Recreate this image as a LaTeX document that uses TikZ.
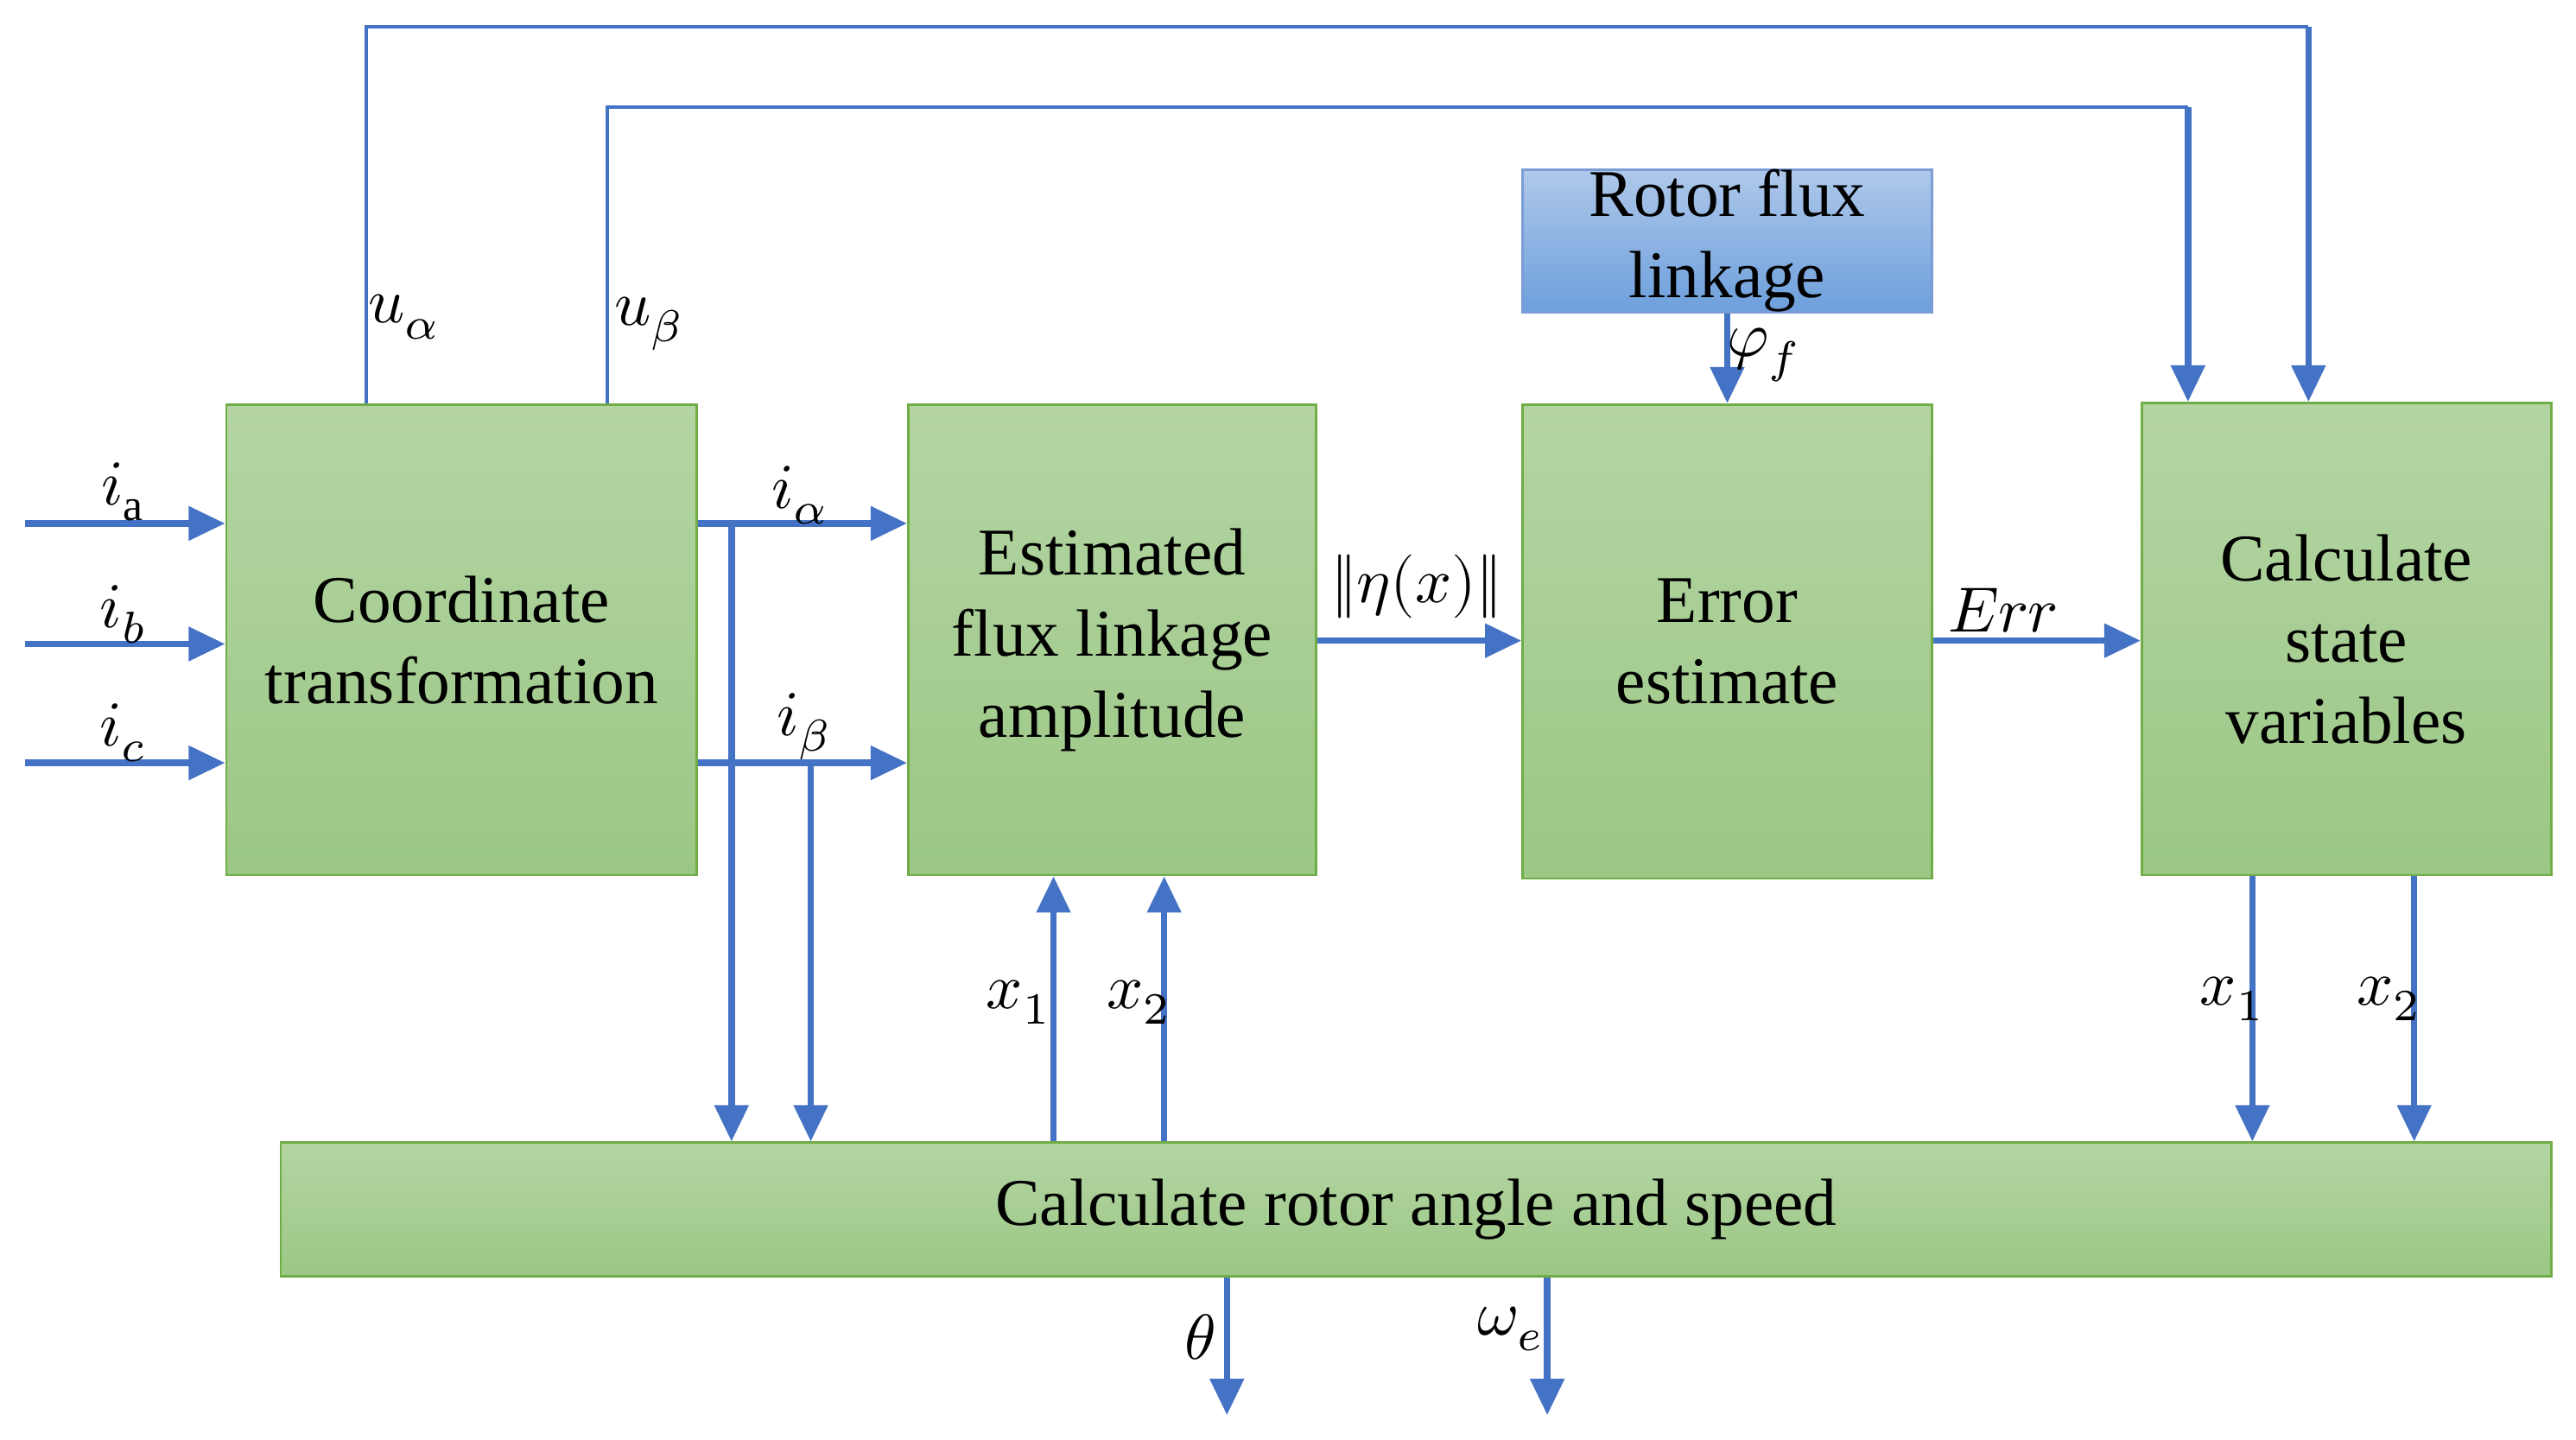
\documentclass[tikz,border=0pt]{standalone}
\usepackage{fontspec}
\setmainfont{Liberation Serif}
\usepackage{unicode-math}
\setmathfont{Latin Modern Math}
\usetikzlibrary{arrows.meta}
\definecolor{gborder}{HTML}{70AD47}
\definecolor{gtop}{HTML}{B4D5A3}
\definecolor{gbot}{HTML}{9BC785}
\definecolor{arrblue}{HTML}{4472C4}
\definecolor{btop}{HTML}{AEC8EA}
\definecolor{bbot}{HTML}{6D9FDC}
\tikzset{
  box/.style={draw=gborder, top color=gtop, bottom color=gbot, align=center,
    font=\fontsize{11.5}{14}\selectfont, inner sep=0pt},
  fluxbox/.style={draw=arrblue!70, top color=btop, bottom color=bbot, align=center,
    font=\fontsize{11.5}{14}\selectfont, inner sep=0pt},
  arr/.style={draw=arrblue, line width=1.1pt, -{Triangle[length=2.2mm,width=2mm]}},
  wire/.style={draw=arrblue, line width=0.6pt},
  lbl/.style={font=\fontsize{11}{13}\selectfont}
}
\begin{document}
\begin{tikzpicture}[x=0.1mm,y=-0.1mm]
\useasboundingbox (0,0) rectangle (1560,872);
% blocks
\node[box, minimum width=28.5mm, minimum height=28.5mm] (ct) at (279.5,387.5) {Coordinate\\transformation};
\node[box, minimum width=24.7mm, minimum height=28.5mm] (efl) at (673.5,387.5) {Estimated\\flux linkage\\amplitude};
\node[box, minimum width=24.8mm, minimum height=28.7mm] (err) at (1046,388.5) {Error\\estimate};
\node[box, minimum width=24.8mm, minimum height=28.6mm] (csv) at (1421,387) {Calculate\\state\\variables};
\node[fluxbox, minimum width=24.8mm, minimum height=8.6mm] (rfl) at (1046,146) {Rotor flux\\linkage};
\node[box, minimum width=137.5mm, minimum height=8.1mm] (crs) at (857.5,732.5) {Calculate rotor angle and speed};
% free ends
\coordinate (ina) at (15,317);
\coordinate (inb) at (15,390);
\coordinate (inc) at (15,462);
\coordinate (ial) at (443,317);
\coordinate (ibe) at (491,462);
\coordinate (ua) at (222,16);
\coordinate (ub) at (368,65);
\coordinate (uaend) at (1398,16);
\coordinate (ubend) at (1325,65);
\coordinate (th) at (743,857);
\coordinate (om) at (937,857);
% inputs
\draw[arr] (ina) -- (ina -| ct.west);
\draw[arr] (inb) -- (inb -| ct.west);
\draw[arr] (inc) -- (inc -| ct.west);
% alpha/beta currents
\draw[arr] (ct.east |- ial) -- (ial -| efl.west);
\draw[arr] (ct.east |- ibe) -- (ibe -| efl.west);
\draw[arr] (ial) -- (ial |- crs.north);
\draw[arr] (ibe) -- (ibe |- crs.north);
% feedback x1 x2
\draw[arr] (crs.north -| 638,0) -- (efl.south -| 638,0);
\draw[arr] (crs.north -| 705,0) -- (efl.south -| 705,0);
\draw[arr] (csv.south -| 1364,0) -- (crs.north -| 1364,0);
\draw[arr] (csv.south -| 1462,0) -- (crs.north -| 1462,0);
% main chain
\draw[arr] (efl.east |- 0,388) -- (err.west |- 0,388);
\draw[arr] (err.east |- 0,388) -- (csv.west |- 0,388);
\draw[arr] (rfl) -- (err);
% voltages
\draw[wire] (ct.north -| ua) -- (ua) -- (uaend);
\draw[arr] (uaend) -- (csv.north -| uaend);
\draw[wire] (ct.north -| ub) -- (ub) -- (ubend);
\draw[arr] (ubend) -- (csv.north -| ubend);
% outputs
\draw[arr] (crs.south -| th) -- (th);
\draw[arr] (crs.south -| om) -- (om);
% labels
\node[lbl] (lia) at (75,298) {$i_{\mathrm{a}}$};
\node[lbl] (lib) at (75,372) {$i_b$};
\node[lbl] (lic) at (75,444) {$i_c$};
\node[lbl] (lial) at (485,300) {$i_\alpha$};
\node[lbl] (libe) at (487,440) {$i_\beta$};
\node[lbl] (lua) at (245,192) {$u_\alpha$};
\node[lbl] (lub) at (393,196) {$u_\beta$};
\node[lbl] (leta) at (858,355) {$\lVert\eta(x)\rVert$};
\node[lbl] (lphi) at (1068,215) {$\varphi_f$};
\node[lbl] (lerr) at (1213,370) {$Err$};
\node[lbl] (lx1a) at (617,607) {$x_1$};
\node[lbl] (lx2a) at (690,607) {$x_2$};
\node[lbl] (lx1b) at (1352,605) {$x_1$};
\node[lbl] (lx2b) at (1447,605) {$x_2$};
\node[lbl] (lth) at (727,810) {$\theta$};
\node[lbl] (lom) at (915,805) {$\omega_e$};
\end{tikzpicture}
\end{document}
